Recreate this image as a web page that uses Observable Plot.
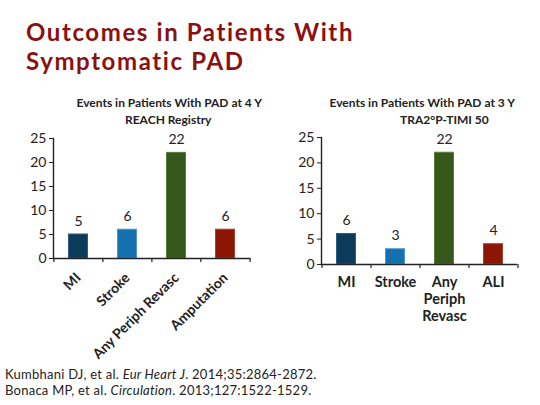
<!DOCTYPE html>
<html>
<head>
<meta charset="utf-8">
<script src="https://cdn.jsdelivr.net/npm/d3@7"></script>
<script src="https://cdn.jsdelivr.net/npm/@observablehq/plot@0.6"></script>
<style>
  html, body { margin:0; padding:0; background:#fff; }
  #root { position:relative; width:540px; height:405px; overflow:hidden; font-family: Lato, "Open Sans", sans-serif; color:#222; }
  .abs { position:absolute; white-space:nowrap; }
  .title { left:26px; font-size:24px; line-height:29px; height:29px; letter-spacing:1.6px; font-weight:bold; color:#8b1010; }
  .sub { font-size:12px; font-weight:bold; line-height:16px; color:#222; }
  .foot { left:5px; font-size:13px; line-height:15.6px; letter-spacing:0.25px; color:#222; }
</style>
</head>
<body>
<div id="root">
  <div class="abs title" style="top:17px;">Outcomes in Patients With</div>
  <div class="abs title" style="top:46px;">Symptomatic PAD</div>
  <div id="sub1a" class="abs sub"></div>
  <div id="sub1b" class="abs sub"></div>
  <div id="sub2a" class="abs sub"></div>
  <div id="sub2b" class="abs sub"></div>
  <div id="c1" class="abs" style="left:0px; top:125px;"></div>
  <div id="c2" class="abs" style="left:270px; top:125px;"></div>
  <div class="abs foot" style="top:367px;">Kumbhani DJ, et al. <i>Eur Heart J</i>. 2014;35:2864-2872.</div>
  <div class="abs foot" style="top:383px;">Bonaca MP, et al. <i>Circulation</i>. 2013;127:1522-1529.</div>
</div>
<script>
// ---- data ----
const leftTitle = ["Events in Patients With PAD at 4 Y", "REACH Registry"];
const leftCategories = ["MI", "Stroke", "Any Periph Revasc", "Amputation"];
const leftValues = [5, 6, 22, 6];

const rightTitle = ["Events in Patients With PAD at 3 Y", "TRA2\u00B0P-TIMI 50"];
const rightCategories = ["MI", "Stroke", "Any\nPeriph\nRevasc", "ALI"];
const rightValues = [6, 3, 22, 4];

const barColors = ["#0c3a5a", "#1470ae", "#36581a", "#8c1604"];
const barEdges = ["#2f5c7c", "#4c97c8", "#5a7a38", "#a8412e"];
const yTicks = [0, 5, 10, 15, 20, 25];

// ---- subtitles ----
function place(id, text, cx, top, alignLeft) {
  const el = document.getElementById(id);
  el.textContent = text;
  el.style.top = top + "px";
  if (alignLeft) { el.style.left = cx + "px"; }
  else { el.style.left = (cx - el.offsetWidth / 2) + "px"; }
}
place("sub1a", leftTitle[0], 169, 95);
place("sub1b", leftTitle[1], 168, 112);
place("sub2a", rightTitle[0], 422, 95);
place("sub2b", rightTitle[1], 400, 112, true);

// ---- chart builder ----
function chart(categories, values, opts) {
  const rows = categories.map((c, i) => ({c, v: values[i], edge: barEdges[i]}));
  const step = (opts.width - opts.marginLeft - opts.marginRight) / categories.length;
  const last = categories[categories.length - 1];
  const labelMarks = opts.rotate
    ? [Plot.axisX({tickSize: 0, tickRotate: -45, tickPadding: 17, fontWeight: "bold", fontSize: 14, label: null})]
    : [Plot.text(rows, {x: "c", y: 0, text: "c", dy: 11, lineAnchor: "top", lineHeight: 1.15, fontWeight: "bold", fontSize: 14.5, fill: "#222"})];
  return Plot.plot({
    width: opts.width,
    height: opts.height,
    marginLeft: opts.marginLeft,
    marginRight: opts.marginRight,
    marginTop: opts.marginTop,
    marginBottom: opts.marginBottom,
    style: {fontFamily: "Lato, 'Open Sans', sans-serif", fontSize: "14px", color: "#222", background: "transparent", overflow: "visible"},
    x: {domain: categories, paddingInner: 0.6, paddingOuter: 0.3, axis: null},
    y: {domain: [0, 25], axis: null},
    color: {domain: categories, range: barColors},
    marks: [
      Plot.barY(rows, {x: "c", y: "v", fill: "c", stroke: "edge", strokeWidth: 1, insetLeft: 0.5, insetRight: 0.5}),
      Plot.text(rows, {x: "c", y: "v", text: d => String(d.v), dy: -9, lineAnchor: "bottom", fontSize: 14, fill: "#222"}),
      Plot.axisY({ticks: yTicks, tickSize: 4, tickPadding: 3, fontSize: 14, label: null, stroke: "#222"}),
      Plot.frame({anchor: "left", stroke: "#222", strokeWidth: 1.4}),
      Plot.ruleY([0], {stroke: "#222", strokeWidth: 1.5}),
      Plot.ruleX(categories, {x: d => d, y1: 0, y2: 0, insetBottom: -4, dx: -step / 2, stroke: "#222", strokeWidth: 1.2}),
      Plot.ruleX([last], {x: d => d, y1: 0, y2: 0, insetBottom: -4, dx: step / 2, stroke: "#222", strokeWidth: 1.2}),
      ...labelMarks
    ]
  });
}

document.getElementById("c1").append(chart(leftCategories, leftValues, {
  width: 270, height: 238, marginLeft: 53, marginRight: 20, marginTop: 13, marginBottom: 105, rotate: true
}));
document.getElementById("c2").append(chart(rightCategories, rightValues, {
  width: 270, height: 220, marginLeft: 51, marginRight: 23, marginTop: 12, marginBottom: 81, rotate: false
}));
</script>
</body>
</html>
